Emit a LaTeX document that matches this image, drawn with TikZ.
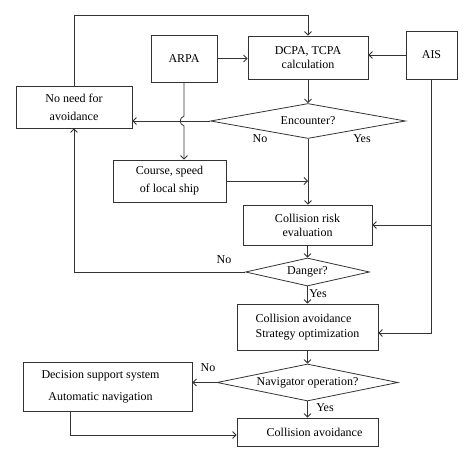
\documentclass[tikz,border=0pt]{standalone}
\usepackage{fontspec}
\setmainfont{Liberation Serif}
\usetikzlibrary{calc,arrows.meta,shapes.geometric}

\begin{document}
\begin{tikzpicture}[x=1pt,y=-1pt,>={Straight Barb[length=3.5pt,width=7pt]},
  line width=0.8pt,draw=black!80,
  box/.style={draw,rectangle,inner sep=2pt,align=center,font=\fontsize{12}{14}\selectfont},
  dec/.style={draw,diamond,aspect=6,inner sep=0pt,font=\fontsize{12}{14}\selectfont},
  lab/.style={inner sep=0pt,font=\fontsize{12}{14}\selectfont}]
  \useasboundingbox (0,0) rectangle (474,462);
  % boxes
  \node[box,minimum width=66pt,minimum height=47pt] (arpa) at (184,58.5) {ARPA};
  \node[box,minimum width=120pt,minimum height=43pt] (dcpa) at (308,57.5) {DCPA, TCPA\\calculation};
  \node[box,minimum width=51pt,minimum height=48pt] (ais) at (431.5,55) {AIS};
  \node[box,minimum width=116pt,minimum height=42pt] (noneed) at (74,107) {No need for\\[4pt]avoidance};
  \node[dec,minimum width=195pt,minimum height=35pt] (enc) at (308,121) {Encounter?};
  \node[box,minimum width=113pt,minimum height=42pt] (course) at (169.5,181) {Course, speed\\[4pt]of local ship};
  \node[box,minimum width=129pt,minimum height=40pt] (risk) at (307.5,225) {Collision risk\\evaluation};
  \node[dec,minimum width=124pt,minimum height=28pt] (danger) at (307.5,272) {Danger?};
  \node[box,align=left,minimum width=141pt,minimum height=46pt] (strat) at (307.5,327) {Collision avoidance\\[1pt]Strategy optimization};
  \node[dec,minimum width=181pt,minimum height=37pt] (nav) at (307.5,382.5) {Navigator operation?};
  \node[box,minimum width=169pt,minimum height=49pt] (dss) at (107.5,386.5) {Decision support system\hspace*{14pt}\\[8pt]Automatic navigation\hspace*{14pt}};
  \node[box,minimum width=141pt,minimum height=28pt] (final) at (307.5,432) {\hspace{14pt}Collision avoidance};
  % labels
  \node[lab] (no1) at (260,139) {No};
  \node[lab] (yes1) at (362,139) {Yes};
  \node[lab] (no2) at (224,260) {No};
  \node[lab] (yes2) at (318,294) {Yes};
  \node[lab] (no3) at (208,368) {No};
  \node[lab] (yes3) at (325,408) {Yes};
  % connectors
  \draw[->] (noneed.north) -- ++(0,-70) -| (dcpa.north);
  \draw[->] (arpa.east) -- (arpa.east -| dcpa.west);
  \draw[->] (ais.west) -- (ais.west -| dcpa.east);
  \draw[->] (dcpa.south) -- (enc.north);
  \draw[->] (enc.west) -- (enc.west -| noneed.east);
  \coordinate (hop) at (arpa.south |- enc.west);
  \draw[->] (arpa.south) -- ($(hop)+(0,-5)$) .. controls +(-5,2) and +(-5,-2) .. ($(hop)+(0,5)$) -- (arpa.south |- course.north);
  \draw[->] (course.east) -- (course.east -| enc.south);
  \draw[->] (enc.south) -- (enc.south |- risk.north);
  \draw (ais.south) -- (ais.south |- {$(strat.east)+(0,6)$});
  \draw[->] (ais.south |- risk.east) -- (risk.east);
  \draw[->] (ais.south |- {$(strat.east)+(0,6)$}) -- ($(strat.east)+(0,6)$);
  \draw[->] (risk.south) -- (danger.north);
  \draw[->] (danger.west) -| (noneed.south);
  \draw[->] (danger.south) -- (strat.north);
  \draw[->] (strat.south) -- (nav.north);
  \draw[->] (nav.west) -- (nav.west -| dss.east);
  \draw[->] (nav.south) -- (final.north);
  \draw[->] ($(dss.south)+(-37,0)$) |- ($(final.west)+(0,3)$);
\end{tikzpicture}
\end{document}
